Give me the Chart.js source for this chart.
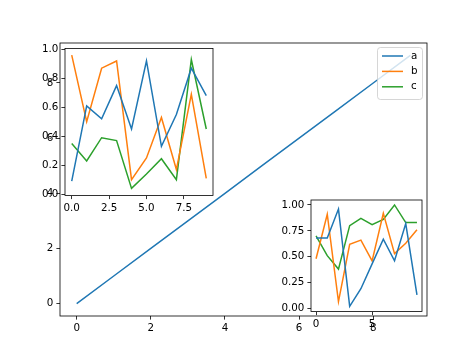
<!DOCTYPE html>
<html><head><meta charset="utf-8">
<script src="https://cdn.jsdelivr.net/npm/chart.js@4"></script>
<style>
html,body{margin:0;padding:0;background:#fff;}
#wrap{position:relative;width:474px;height:355px;}
canvas{position:absolute;left:0;top:0;}
</style></head><body>
<div id="wrap">
<canvas id="main" width="474" height="355"></canvas>
<canvas id="in1" width="474" height="355"></canvas>
<canvas id="in2" width="474" height="355"></canvas>
</div>
<script>
// ---- data ----
const seriesNames = ['a', 'b', 'c'];
const seriesColors = ['#1f77b4', '#ff7f0e', '#2ca02c'];
const xValues = [0, 1, 2, 3, 4, 5, 6, 7, 8, 9];
const mainA = [0, 1, 2, 3, 4, 5, 6, 7, 8, 9];
const mainTicks = [0, 2, 4, 6, 8];

const inset1A = [0.09, 0.61, 0.52, 0.75, 0.45, 0.92, 0.33, 0.55, 0.87, 0.68];
const inset1B = [0.96, 0.50, 0.87, 0.92, 0.10, 0.25, 0.53, 0.17, 0.69, 0.11];
const inset1C = [0.35, 0.23, 0.39, 0.37, 0.04, 0.14, 0.245, 0.10, 0.93, 0.45];
const inset1XTicks = [0, 2.5, 5, 7.5];
const inset1YTicks = [0, 0.2, 0.4, 0.6, 0.8, 1.0];

const inset2A = [0.68, 0.68, 0.96, 0.02, 0.19, 0.43, 0.67, 0.46, 0.82, 0.13];
const inset2B = [0.48, 0.91, 0.065, 0.62, 0.66, 0.46, 0.92, 0.53, 0.63, 0.76];
const inset2C = [0.70, 0.51, 0.38, 0.80, 0.87, 0.81, 0.86, 1.00, 0.83, 0.83];
const inset2XTicks = [0, 5];
const inset2YTicks = [0, 0.25, 0.5, 0.75, 1.0];

// ---- helpers ----
Chart.defaults.font.family = "'DejaVu Sans', sans-serif";
Chart.defaults.font.size = 10.3;
Chart.defaults.color = '#000';

const W = 474, H = 355;

function pts(ys) { return xValues.map((x, i) => ({x: x, y: ys[i]})); }

function ds(label, ys, color) {
  return {label: label, data: pts(ys), borderColor: color, backgroundColor: color,
    borderWidth: 1.5, pointRadius: 0, tension: 0, fill: false};
}

const framePlugin = {
  id: 'frame',
  beforeDraw(chart, args, opts) {
    if (opts.fill) {
      const a = chart.chartArea, c = chart.ctx;
      c.save(); c.fillStyle = '#fff';
      c.fillRect(a.left, a.top, a.right - a.left, a.bottom - a.top);
      c.restore();
    }
  },
  afterDraw(chart) {
    const a = chart.chartArea, c = chart.ctx;
    c.save(); c.strokeStyle = '#000'; c.lineWidth = 0.8;
    c.strokeRect(a.left, a.top, a.right - a.left, a.bottom - a.top);
    c.restore();
  }
};

function scaleOpts(min, max, ticks, fmt, axis, fitSize) {
  return {
    type: 'linear', min: min, max: max,
    border: {display: false},
    grid: {display: true, drawOnChartArea: false, drawTicks: true, tickLength: 3.6,
      tickColor: '#000', tickWidth: 0.8},
    ticks: {autoSkip: false, maxRotation: 0, padding: 3, color: '#000',
      callback: (v) => fmt(v)},
    afterBuildTicks: (s) => { s.ticks = ticks.map(v => ({value: v})); },
    afterFit: (s) => { if (axis === 'x') s.height = fitSize; else s.width = fitSize; }
  };
}

function makeChart(id, datasets, box, xr, yr, xt, yt, xf, yf, fill, extra) {
  return new Chart(document.getElementById(id), {
    type: 'line',
    data: {datasets: datasets},
    options: {
      responsive: false, animation: false, devicePixelRatio: 1,
      layout: {padding: {left: 0, top: box.t, right: W - box.r, bottom: 0}},
      plugins: {legend: {display: false}, tooltip: {enabled: false}, frame: {fill: fill}},
      scales: {
        x: scaleOpts(xr[0], xr[1], xt, xf, 'x', H - box.b),
        y: scaleOpts(yr[0], yr[1], yt, yf, 'y', box.l)
      }
    },
    plugins: [framePlugin].concat(extra || [])
  });
}

const legendPlugin = {
  id: 'mlegend',
  afterDraw(chart) {
    const c = chart.ctx;
    const bx = 377.5, by = 47.5, bw = 45, bh = 52, r = 3;
    c.save();
    c.beginPath();
    c.moveTo(bx + r, by); c.lineTo(bx + bw - r, by); c.quadraticCurveTo(bx + bw, by, bx + bw, by + r);
    c.lineTo(bx + bw, by + bh - r); c.quadraticCurveTo(bx + bw, by + bh, bx + bw - r, by + bh);
    c.lineTo(bx + r, by + bh); c.quadraticCurveTo(bx, by + bh, bx, by + bh - r);
    c.lineTo(bx, by + r); c.quadraticCurveTo(bx, by, bx + r, by);
    c.closePath();
    c.fillStyle = 'rgba(255,255,255,0.8)'; c.fill();
    c.strokeStyle = 'rgba(204,204,204,0.8)'; c.lineWidth = 1; c.stroke();
    c.font = "10.3px 'DejaVu Sans', sans-serif";
    c.textBaseline = 'middle'; c.textAlign = 'left'; c.fillStyle = '#000';
    seriesNames.forEach((n, i) => {
      const y = 56 + i * 15.4;
      c.beginPath(); c.moveTo(382, y); c.lineTo(403, y);
      c.strokeStyle = seriesColors[i]; c.lineWidth = 1.5; c.stroke();
      c.fillText(n, 411, y);
    });
    c.restore();
  }
};

// main axes
makeChart('main', [ds(seriesNames[0], mainA, seriesColors[0])],
  {l: 60, t: 43, r: 427, b: 316}, [-0.45, 9.45], [-0.45, 9.45],
  mainTicks, mainTicks, v => String(v), v => String(v), false, [legendPlugin]);

// inset 1 (upper left)
makeChart('in1', [ds(seriesNames[0], inset1A, seriesColors[0]),
                  ds(seriesNames[1], inset1B, seriesColors[1]),
                  ds(seriesNames[2], inset1C, seriesColors[2])],
  {l: 65, t: 48.5, r: 213, b: 195.5}, [-0.45, 9.45], [-0.009, 1.006],
  inset1XTicks, inset1YTicks, v => v.toFixed(1), v => v.toFixed(1), true);

// inset 2 (lower right)
makeChart('in2', [ds(seriesNames[0], inset2A, seriesColors[0]),
                  ds(seriesNames[1], inset2B, seriesColors[1]),
                  ds(seriesNames[2], inset2C, seriesColors[2])],
  {l: 311, t: 200, r: 422, b: 311.5}, [-0.45, 9.45], [-0.03, 1.048],
  inset2XTicks, inset2YTicks, v => String(v), v => v.toFixed(2), true);
</script>
</body></html>
